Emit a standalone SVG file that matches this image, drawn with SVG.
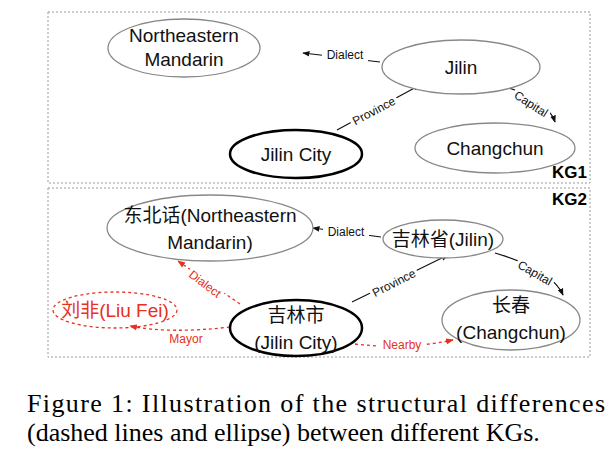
<svg xmlns="http://www.w3.org/2000/svg" width="611" height="458" viewBox="0 0 611 458">
<style>
.box{fill:none;stroke:#999;stroke-width:1;stroke-dasharray:2,2}
.n{fill:#fff;stroke:#888;stroke-width:1.3}
.b{fill:#fff;stroke:#000;stroke-width:2.5}
.t{font-family:"Liberation Sans","Noto Sans CJK SC",sans-serif;font-size:19px;text-anchor:middle;fill:#111}
.r{fill:#e8301c}
.e{fill:none;stroke:#111;stroke-width:1.2}
.d{fill:none;stroke:#e8301c;stroke-width:1.3;stroke-dasharray:3,3}
.l{font-family:"Liberation Sans",sans-serif;font-size:12px;text-anchor:middle;fill:#111}
.lr{font-family:"Liberation Sans",sans-serif;font-size:12px;text-anchor:middle;fill:#e8301c}
.kg{font-family:"Liberation Sans",sans-serif;font-size:17px;font-weight:bold;text-anchor:end}
.cap{font-family:"Liberation Serif",serif;font-size:26px}
.lb{fill:#fff}
</style>
<defs>
<marker id="a" viewBox="0 0 10 10" refX="9" refY="5" markerWidth="6" markerHeight="6" orient="auto"><path d="M0,1 L10,5 L0,9z" fill="#111"/></marker>
<marker id="ar" viewBox="0 0 10 10" refX="9" refY="5" markerWidth="6" markerHeight="6" orient="auto"><path d="M0,1 L10,5 L0,9z" fill="#e8301c"/></marker>
</defs>
<rect class="box" x="48" y="12" width="542" height="171"/>
<rect class="box" x="48" y="188" width="542" height="169"/>
<text class="kg" x="587" y="178">KG1</text>
<text class="kg" x="587" y="205">KG2</text>
<g id="connectors">
<path class="e" d="M380,62 L303,53" marker-end="url(#a)"/>
<path class="e" d="M337,130 L420,85" marker-end="url(#a)"/>
<path class="e" d="M506,87 Q548,100 555,122" marker-end="url(#a)"/>
<path class="e" d="M381,237 L313,228" marker-end="url(#a)"/>
<path class="e" d="M352,302 L448,255" marker-end="url(#a)"/>
<path class="e" d="M495,253 Q552,270 563,295" marker-end="url(#a)"/>
<path class="d" d="M240,304 L178,261" marker-end="url(#ar)"/>
<path class="d" d="M230,327 Q170,334 130,326" marker-end="url(#ar)"/>
<path class="d" d="M355,344 Q405,350 453,340" marker-end="url(#ar)"/>
<rect class="lb" x="322" y="47" width="46" height="15"/><text class="l" x="345" y="59">Dialect</text>
<g transform="translate(374,111) rotate(-28)"><rect class="lb" x="-26" y="-8" width="52" height="15"/><text class="l" x="0" y="4">Province</text></g>
<g transform="translate(531,104) rotate(33)"><rect class="lb" x="-21" y="-8" width="42" height="15"/><text class="l" x="0" y="4">Capital</text></g>
<rect class="lb" x="323" y="224" width="46" height="15"/><text class="l" x="346" y="236">Dialect</text>
<g transform="translate(394,283) rotate(-27)"><rect class="lb" x="-26" y="-8" width="52" height="15"/><text class="l" x="0" y="4">Province</text></g>
<g transform="translate(535,273) rotate(30)"><rect class="lb" x="-21" y="-8" width="42" height="15"/><text class="l" x="0" y="4">Capital</text></g>
<g transform="translate(205,284) rotate(37)"><rect class="lb" x="-21" y="-8" width="42" height="15"/><text class="lr" x="0" y="4">Dialect</text></g>
<rect class="lb" x="164" y="331" width="44" height="15"/><text class="lr" x="186" y="343">Mayor</text>
<rect class="lb" x="378" y="337" width="48" height="15"/><text class="lr" x="402" y="349">Nearby</text>
</g>
<g id="kg1-ne"><ellipse class="n" cx="184" cy="48" rx="76" ry="29"/><text class="t" x="184" y="42">Northeastern</text><text class="t" x="184" y="66">Mandarin</text></g>
<g id="kg1-jilin"><ellipse class="n" cx="461" cy="67" rx="79" ry="27"/><text class="t" x="461" y="74">Jilin</text></g>
<g id="kg1-city"><ellipse class="b" cx="296" cy="154" rx="66" ry="24"/><text class="t" x="296" y="161">Jilin City</text></g>
<g id="kg1-cc"><ellipse class="n" cx="495" cy="148" rx="80" ry="25"/><text class="t" x="495" y="155">Changchun</text></g>
<g id="kg2-ne"><ellipse class="n" cx="210" cy="228" rx="103" ry="33"/><text class="t" x="210" y="222">东北话(Northeastern</text><text class="t" x="210" y="249">Mandarin)</text></g>
<g id="kg2-jilin"><ellipse class="n" cx="443" cy="239" rx="60" ry="19"/><text class="t" x="443" y="246">吉林省(Jilin)</text></g>
<g id="kg2-cc"><ellipse class="n" cx="511" cy="320" rx="69" ry="30"/><text class="t" x="511" y="312">长春</text><text class="t" x="511" y="339">(Changchun)</text></g>
<g id="kg2-city"><ellipse class="b" cx="296" cy="328" rx="66" ry="28"/><text class="t" x="296" y="322">吉林市</text><text class="t" x="296" y="349">(Jilin City)</text></g>
<g id="kg2-liu"><ellipse class="d" cx="115" cy="310" rx="62" ry="18" stroke-dasharray="3,2"/><text class="t r" x="115" y="317">刘非(Liu Fei)</text></g>
<text class="cap" x="27" y="412" textLength="578" lengthAdjust="spacing">Figure 1:  Illustration of the structural differences</text>
<text class="cap" x="27" y="441">(dashed lines and ellipse) between different KGs.</text>
</svg>
